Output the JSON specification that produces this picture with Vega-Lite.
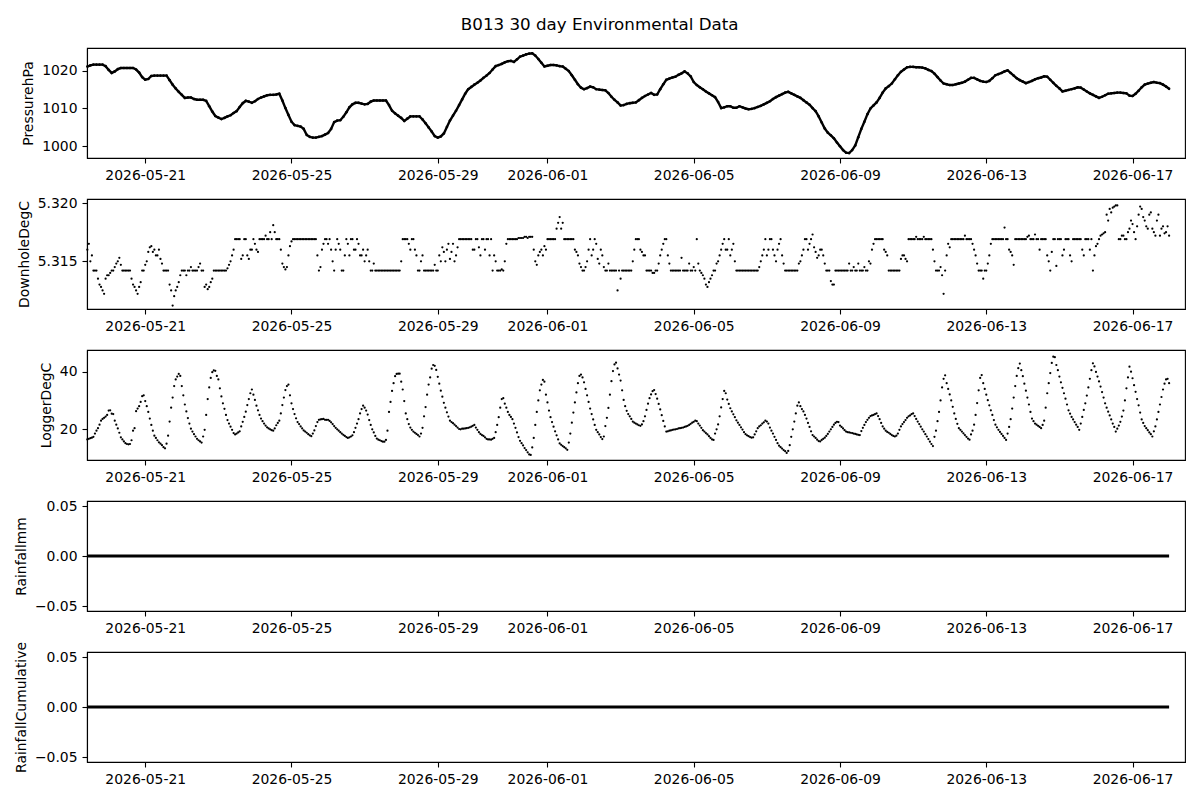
{
"$schema":"https://vega.github.io/schema/vega-lite/v6.json",
"background":"white",
"padding":{"left":13,"top":16,"right":5,"bottom":5},
"title":{"text":"B013 30 day Environmental Data","font":"DejaVu Sans","fontSize":16.7,"fontWeight":"normal","color":"black","anchor":"middle","frame":"bounds","offset":14},
"config":{
"font":"DejaVu Sans",
"view":{"stroke":"black","strokeWidth":1.1},
"axis":{"labelFont":"DejaVu Sans","labelFontSize":13.9,"labelColor":"black","titleFont":"DejaVu Sans","titleFontSize":13.9,"titleFontWeight":"normal","titleColor":"black","tickColor":"black","tickSize":5,"tickWidth":1.1,"domainColor":"black","domainWidth":1.1,"labelPadding":5,"titlePadding":6,"grid":false}
},
"bounds":"flush",
"spacing":41,
"data":{"values":[
{"t":"2026-05-19T10:00","p":1021.1,"d":5.3160,"l":16.5,"r":0,"c":0},
{"t":"2026-05-19T12:00","p":1021.4,"d":5.3150,"l":16.9,"r":0,"c":0},
{"t":"2026-05-19T14:00","p":1021.6,"d":5.3142,"l":17.4,"r":0,"c":0},
{"t":"2026-05-19T16:00","p":1021.6,"d":5.3142,"l":19.5,"r":0,"c":0},
{"t":"2026-05-19T18:00","p":1021.6,"d":5.3130,"l":21.6,"r":0,"c":0},
{"t":"2026-05-19T20:00","p":1021.6,"d":5.3125,"l":23.6,"r":0,"c":0},
{"t":"2026-05-19T22:00","p":1021.2,"d":5.3135,"l":24.4,"r":0,"c":0},
{"t":"2026-05-20T00:00","p":1020.2,"d":5.3138,"l":26.5,"r":0,"c":0},
{"t":"2026-05-20T02:00","p":1019.4,"d":5.3142,"l":25.4,"r":0,"c":0},
{"t":"2026-05-20T04:00","p":1019.8,"d":5.3145,"l":23.0,"r":0,"c":0},
{"t":"2026-05-20T06:00","p":1020.4,"d":5.3150,"l":20.3,"r":0,"c":0},
{"t":"2026-05-20T08:00","p":1020.7,"d":5.3147,"l":17.2,"r":0,"c":0},
{"t":"2026-05-20T10:00","p":1020.7,"d":5.3142,"l":15.8,"r":0,"c":0},
{"t":"2026-05-20T12:00","p":1020.7,"d":5.3142,"l":14.9,"r":0,"c":0},
{"t":"2026-05-20T14:00","p":1020.7,"d":5.3142,"l":14.9,"r":0,"c":0},
{"t":"2026-05-20T16:00","p":1020.7,"d":5.3130,"l":19.5,"r":0,"c":0},
{"t":"2026-05-20T18:00","p":1020.3,"d":5.3125,"l":26.3,"r":0,"c":0},
{"t":"2026-05-20T20:00","p":1019.5,"d":5.3128,"l":28.0,"r":0,"c":0},
{"t":"2026-05-20T22:00","p":1018.3,"d":5.3142,"l":31.5,"r":0,"c":0},
{"t":"2026-05-21T00:00","p":1017.6,"d":5.3147,"l":29.8,"r":0,"c":0},
{"t":"2026-05-21T02:00","p":1017.8,"d":5.3158,"l":26.0,"r":0,"c":0},
{"t":"2026-05-21T04:00","p":1018.6,"d":5.3163,"l":21.5,"r":0,"c":0},
{"t":"2026-05-21T06:00","p":1018.7,"d":5.3160,"l":17.8,"r":0,"c":0},
{"t":"2026-05-21T08:00","p":1018.7,"d":5.3155,"l":16.2,"r":0,"c":0},
{"t":"2026-05-21T10:00","p":1018.7,"d":5.3152,"l":15.0,"r":0,"c":0},
{"t":"2026-05-21T12:00","p":1018.7,"d":5.3142,"l":13.8,"r":0,"c":0},
{"t":"2026-05-21T14:00","p":1018.7,"d":5.3142,"l":15.0,"r":0,"c":0},
{"t":"2026-05-21T16:00","p":1017.5,"d":5.3130,"l":22.7,"r":0,"c":0},
{"t":"2026-05-21T18:00","p":1016.3,"d":5.3112,"l":31.0,"r":0,"c":0},
{"t":"2026-05-21T20:00","p":1015.3,"d":5.3125,"l":37.3,"r":0,"c":0},
{"t":"2026-05-21T22:00","p":1014.4,"d":5.3132,"l":39.2,"r":0,"c":0},
{"t":"2026-05-22T00:00","p":1013.6,"d":5.3142,"l":35.0,"r":0,"c":0},
{"t":"2026-05-22T02:00","p":1012.8,"d":5.3142,"l":28.6,"r":0,"c":0},
{"t":"2026-05-22T04:00","p":1012.9,"d":5.3142,"l":23.9,"r":0,"c":0},
{"t":"2026-05-22T06:00","p":1012.9,"d":5.3145,"l":20.2,"r":0,"c":0},
{"t":"2026-05-22T08:00","p":1012.5,"d":5.3142,"l":18.3,"r":0,"c":0},
{"t":"2026-05-22T10:00","p":1012.3,"d":5.3142,"l":16.7,"r":0,"c":0},
{"t":"2026-05-22T12:00","p":1012.3,"d":5.3148,"l":15.8,"r":0,"c":0},
{"t":"2026-05-22T14:00","p":1012.3,"d":5.3142,"l":17.5,"r":0,"c":0},
{"t":"2026-05-22T16:00","p":1012.0,"d":5.3130,"l":25.0,"r":0,"c":0},
{"t":"2026-05-22T18:00","p":1010.6,"d":5.3128,"l":34.5,"r":0,"c":0},
{"t":"2026-05-22T20:00","p":1009.2,"d":5.3135,"l":39.8,"r":0,"c":0},
{"t":"2026-05-22T22:00","p":1008.0,"d":5.3142,"l":40.3,"r":0,"c":0},
{"t":"2026-05-23T00:00","p":1007.6,"d":5.3142,"l":37.3,"r":0,"c":0},
{"t":"2026-05-23T02:00","p":1007.2,"d":5.3142,"l":31.4,"r":0,"c":0},
{"t":"2026-05-23T04:00","p":1007.5,"d":5.3142,"l":27.1,"r":0,"c":0},
{"t":"2026-05-23T06:00","p":1007.9,"d":5.3144,"l":23.2,"r":0,"c":0},
{"t":"2026-05-23T08:00","p":1008.2,"d":5.3150,"l":20.9,"r":0,"c":0},
{"t":"2026-05-23T10:00","p":1008.8,"d":5.3160,"l":18.7,"r":0,"c":0},
{"t":"2026-05-23T12:00","p":1009.3,"d":5.3169,"l":18.5,"r":0,"c":0},
{"t":"2026-05-23T14:00","p":1010.4,"d":5.3169,"l":19.3,"r":0,"c":0},
{"t":"2026-05-23T16:00","p":1011.4,"d":5.3155,"l":22.6,"r":0,"c":0},
{"t":"2026-05-23T18:00","p":1012.0,"d":5.3169,"l":26.1,"r":0,"c":0},
{"t":"2026-05-23T20:00","p":1011.8,"d":5.3152,"l":30.5,"r":0,"c":0},
{"t":"2026-05-23T22:00","p":1011.5,"d":5.3160,"l":33.8,"r":0,"c":0},
{"t":"2026-05-24T00:00","p":1011.9,"d":5.3165,"l":30.2,"r":0,"c":0},
{"t":"2026-05-24T02:00","p":1012.5,"d":5.3158,"l":26.6,"r":0,"c":0},
{"t":"2026-05-24T04:00","p":1012.9,"d":5.3169,"l":23.7,"r":0,"c":0},
{"t":"2026-05-24T06:00","p":1013.2,"d":5.3169,"l":22.0,"r":0,"c":0},
{"t":"2026-05-24T08:00","p":1013.5,"d":5.3169,"l":20.7,"r":0,"c":0},
{"t":"2026-05-24T10:00","p":1013.6,"d":5.3175,"l":20.0,"r":0,"c":0},
{"t":"2026-05-24T12:00","p":1013.6,"d":5.3181,"l":19.5,"r":0,"c":0},
{"t":"2026-05-24T14:00","p":1013.7,"d":5.3169,"l":21.4,"r":0,"c":0},
{"t":"2026-05-24T16:00","p":1013.9,"d":5.3169,"l":23.0,"r":0,"c":0},
{"t":"2026-05-24T18:00","p":1012.1,"d":5.3148,"l":28.4,"r":0,"c":0},
{"t":"2026-05-24T20:00","p":1010.1,"d":5.3143,"l":33.6,"r":0,"c":0},
{"t":"2026-05-24T22:00","p":1008.3,"d":5.3155,"l":35.5,"r":0,"c":0},
{"t":"2026-05-25T00:00","p":1006.5,"d":5.3167,"l":29.0,"r":0,"c":0},
{"t":"2026-05-25T02:00","p":1005.6,"d":5.3169,"l":25.3,"r":0,"c":0},
{"t":"2026-05-25T04:00","p":1005.4,"d":5.3169,"l":22.5,"r":0,"c":0},
{"t":"2026-05-25T06:00","p":1005.2,"d":5.3169,"l":21.0,"r":0,"c":0},
{"t":"2026-05-25T08:00","p":1004.6,"d":5.3169,"l":19.6,"r":0,"c":0},
{"t":"2026-05-25T10:00","p":1003.0,"d":5.3169,"l":18.8,"r":0,"c":0},
{"t":"2026-05-25T12:00","p":1002.5,"d":5.3169,"l":17.9,"r":0,"c":0},
{"t":"2026-05-25T14:00","p":1002.3,"d":5.3169,"l":18.5,"r":0,"c":0},
{"t":"2026-05-25T16:00","p":1002.3,"d":5.3169,"l":21.1,"r":0,"c":0},
{"t":"2026-05-25T18:00","p":1002.5,"d":5.3142,"l":23.3,"r":0,"c":0},
{"t":"2026-05-25T20:00","p":1002.7,"d":5.3160,"l":23.5,"r":0,"c":0},
{"t":"2026-05-25T22:00","p":1003.1,"d":5.3169,"l":23.3,"r":0,"c":0},
{"t":"2026-05-26T00:00","p":1003.5,"d":5.3165,"l":23.3,"r":0,"c":0},
{"t":"2026-05-26T02:00","p":1004.6,"d":5.3160,"l":22.4,"r":0,"c":0},
{"t":"2026-05-26T04:00","p":1006.4,"d":5.3142,"l":21.1,"r":0,"c":0},
{"t":"2026-05-26T06:00","p":1006.8,"d":5.3169,"l":20.0,"r":0,"c":0},
{"t":"2026-05-26T08:00","p":1006.9,"d":5.3160,"l":19.0,"r":0,"c":0},
{"t":"2026-05-26T10:00","p":1007.8,"d":5.3142,"l":18.1,"r":0,"c":0},
{"t":"2026-05-26T12:00","p":1009.0,"d":5.3169,"l":17.3,"r":0,"c":0},
{"t":"2026-05-26T14:00","p":1010.3,"d":5.3155,"l":17.2,"r":0,"c":0},
{"t":"2026-05-26T16:00","p":1011.1,"d":5.3169,"l":17.9,"r":0,"c":0},
{"t":"2026-05-26T18:00","p":1011.5,"d":5.3160,"l":20.5,"r":0,"c":0},
{"t":"2026-05-26T20:00","p":1011.5,"d":5.3165,"l":23.5,"r":0,"c":0},
{"t":"2026-05-26T22:00","p":1011.3,"d":5.3155,"l":27.0,"r":0,"c":0},
{"t":"2026-05-27T00:00","p":1011.1,"d":5.3150,"l":27.5,"r":0,"c":0},
{"t":"2026-05-27T02:00","p":1011.2,"d":5.3160,"l":25.1,"r":0,"c":0},
{"t":"2026-05-27T04:00","p":1011.8,"d":5.3142,"l":21.5,"r":0,"c":0},
{"t":"2026-05-27T06:00","p":1012.1,"d":5.3148,"l":18.9,"r":0,"c":0},
{"t":"2026-05-27T08:00","p":1012.1,"d":5.3142,"l":16.8,"r":0,"c":0},
{"t":"2026-05-27T10:00","p":1012.1,"d":5.3142,"l":16.2,"r":0,"c":0},
{"t":"2026-05-27T12:00","p":1012.1,"d":5.3142,"l":15.7,"r":0,"c":0},
{"t":"2026-05-27T14:00","p":1012.1,"d":5.3142,"l":16.3,"r":0,"c":0},
{"t":"2026-05-27T16:00","p":1010.9,"d":5.3142,"l":26.0,"r":0,"c":0},
{"t":"2026-05-27T18:00","p":1009.4,"d":5.3142,"l":33.3,"r":0,"c":0},
{"t":"2026-05-27T20:00","p":1008.7,"d":5.3142,"l":38.4,"r":0,"c":0},
{"t":"2026-05-27T22:00","p":1008.1,"d":5.3142,"l":39.3,"r":0,"c":0},
{"t":"2026-05-28T00:00","p":1007.5,"d":5.3150,"l":36.5,"r":0,"c":0},
{"t":"2026-05-28T02:00","p":1006.7,"d":5.3169,"l":29.8,"r":0,"c":0},
{"t":"2026-05-28T04:00","p":1007.3,"d":5.3169,"l":23.5,"r":0,"c":0},
{"t":"2026-05-28T06:00","p":1007.9,"d":5.3160,"l":20.6,"r":0,"c":0},
{"t":"2026-05-28T08:00","p":1007.9,"d":5.3169,"l":19.2,"r":0,"c":0},
{"t":"2026-05-28T10:00","p":1007.9,"d":5.3155,"l":18.4,"r":0,"c":0},
{"t":"2026-05-28T12:00","p":1007.9,"d":5.3142,"l":17.5,"r":0,"c":0},
{"t":"2026-05-28T14:00","p":1007.1,"d":5.3155,"l":20.5,"r":0,"c":0},
{"t":"2026-05-28T16:00","p":1006.1,"d":5.3142,"l":27.7,"r":0,"c":0},
{"t":"2026-05-28T18:00","p":1005.0,"d":5.3142,"l":35.5,"r":0,"c":0},
{"t":"2026-05-28T20:00","p":1003.9,"d":5.3142,"l":41.0,"r":0,"c":0},
{"t":"2026-05-28T22:00","p":1002.7,"d":5.3147,"l":42.0,"r":0,"c":0},
{"t":"2026-05-29T00:00","p":1002.3,"d":5.3142,"l":38.2,"r":0,"c":0},
{"t":"2026-05-29T02:00","p":1002.6,"d":5.3150,"l":33.4,"r":0,"c":0},
{"t":"2026-05-29T04:00","p":1003.4,"d":5.3158,"l":29.2,"r":0,"c":0},
{"t":"2026-05-29T06:00","p":1005.1,"d":5.3160,"l":25.9,"r":0,"c":0},
{"t":"2026-05-29T08:00","p":1006.8,"d":5.3152,"l":23.0,"r":0,"c":0},
{"t":"2026-05-29T10:00","p":1008.1,"d":5.3165,"l":22.1,"r":0,"c":0},
{"t":"2026-05-29T12:00","p":1009.4,"d":5.3155,"l":21.1,"r":0,"c":0},
{"t":"2026-05-29T14:00","p":1010.9,"d":5.3169,"l":20.1,"r":0,"c":0},
{"t":"2026-05-29T16:00","p":1012.4,"d":5.3169,"l":20.2,"r":0,"c":0},
{"t":"2026-05-29T18:00","p":1013.9,"d":5.3169,"l":20.3,"r":0,"c":0},
{"t":"2026-05-29T20:00","p":1015.1,"d":5.3169,"l":20.5,"r":0,"c":0},
{"t":"2026-05-29T22:00","p":1015.7,"d":5.3169,"l":20.9,"r":0,"c":0},
{"t":"2026-05-30T00:00","p":1016.3,"d":5.3160,"l":21.5,"r":0,"c":0},
{"t":"2026-05-30T02:00","p":1016.8,"d":5.3169,"l":19.8,"r":0,"c":0},
{"t":"2026-05-30T04:00","p":1017.4,"d":5.3155,"l":18.4,"r":0,"c":0},
{"t":"2026-05-30T06:00","p":1018.1,"d":5.3169,"l":17.7,"r":0,"c":0},
{"t":"2026-05-30T08:00","p":1018.7,"d":5.3169,"l":16.7,"r":0,"c":0},
{"t":"2026-05-30T10:00","p":1019.4,"d":5.3155,"l":16.5,"r":0,"c":0},
{"t":"2026-05-30T12:00","p":1020.3,"d":5.3142,"l":16.7,"r":0,"c":0},
{"t":"2026-05-30T14:00","p":1021.2,"d":5.3150,"l":19.0,"r":0,"c":0},
{"t":"2026-05-30T16:00","p":1021.5,"d":5.3142,"l":24.2,"r":0,"c":0},
{"t":"2026-05-30T18:00","p":1021.8,"d":5.3143,"l":30.5,"r":0,"c":0},
{"t":"2026-05-30T20:00","p":1022.2,"d":5.3150,"l":28.9,"r":0,"c":0},
{"t":"2026-05-30T22:00","p":1022.5,"d":5.3169,"l":26.0,"r":0,"c":0},
{"t":"2026-05-31T00:00","p":1022.6,"d":5.3169,"l":24.3,"r":0,"c":0},
{"t":"2026-05-31T02:00","p":1022.3,"d":5.3169,"l":22.0,"r":0,"c":0},
{"t":"2026-05-31T04:00","p":1023.0,"d":5.3169,"l":18.9,"r":0,"c":0},
{"t":"2026-05-31T06:00","p":1023.7,"d":5.3170,"l":16.0,"r":0,"c":0},
{"t":"2026-05-31T08:00","p":1024.0,"d":5.3170,"l":14.4,"r":0,"c":0},
{"t":"2026-05-31T10:00","p":1024.3,"d":5.3171,"l":12.8,"r":0,"c":0},
{"t":"2026-05-31T12:00","p":1024.5,"d":5.3171,"l":11.3,"r":0,"c":0},
{"t":"2026-05-31T14:00","p":1024.6,"d":5.3171,"l":13.7,"r":0,"c":0},
{"t":"2026-05-31T16:00","p":1024.0,"d":5.3150,"l":21.5,"r":0,"c":0},
{"t":"2026-05-31T18:00","p":1023.1,"d":5.3155,"l":30.0,"r":0,"c":0},
{"t":"2026-05-31T20:00","p":1022.1,"d":5.3160,"l":35.5,"r":0,"c":0},
{"t":"2026-05-31T22:00","p":1021.1,"d":5.3163,"l":36.5,"r":0,"c":0},
{"t":"2026-06-01T00:00","p":1021.3,"d":5.3169,"l":29.3,"r":0,"c":0},
{"t":"2026-06-01T02:00","p":1021.5,"d":5.3169,"l":24.2,"r":0,"c":0},
{"t":"2026-06-01T04:00","p":1021.5,"d":5.3169,"l":20.9,"r":0,"c":0},
{"t":"2026-06-01T06:00","p":1021.4,"d":5.3178,"l":17.9,"r":0,"c":0},
{"t":"2026-06-01T08:00","p":1021.2,"d":5.3188,"l":15.1,"r":0,"c":0},
{"t":"2026-06-01T10:00","p":1021.1,"d":5.3183,"l":14.2,"r":0,"c":0},
{"t":"2026-06-01T12:00","p":1020.5,"d":5.3169,"l":13.4,"r":0,"c":0},
{"t":"2026-06-01T14:00","p":1019.9,"d":5.3169,"l":15.4,"r":0,"c":0},
{"t":"2026-06-01T16:00","p":1018.8,"d":5.3169,"l":22.3,"r":0,"c":0},
{"t":"2026-06-01T18:00","p":1017.6,"d":5.3160,"l":29.3,"r":0,"c":0},
{"t":"2026-06-01T20:00","p":1016.4,"d":5.3155,"l":36.0,"r":0,"c":0},
{"t":"2026-06-01T22:00","p":1015.5,"d":5.3145,"l":39.0,"r":0,"c":0},
{"t":"2026-06-02T00:00","p":1015.1,"d":5.3142,"l":36.3,"r":0,"c":0},
{"t":"2026-06-02T02:00","p":1015.4,"d":5.3150,"l":31.8,"r":0,"c":0},
{"t":"2026-06-02T04:00","p":1015.8,"d":5.3169,"l":27.2,"r":0,"c":0},
{"t":"2026-06-02T06:00","p":1015.6,"d":5.3160,"l":23.4,"r":0,"c":0},
{"t":"2026-06-02T08:00","p":1015.1,"d":5.3165,"l":19.8,"r":0,"c":0},
{"t":"2026-06-02T10:00","p":1015.0,"d":5.3148,"l":18.2,"r":0,"c":0},
{"t":"2026-06-02T12:00","p":1014.9,"d":5.3155,"l":16.6,"r":0,"c":0},
{"t":"2026-06-02T14:00","p":1014.8,"d":5.3142,"l":21.1,"r":0,"c":0},
{"t":"2026-06-02T16:00","p":1014.1,"d":5.3148,"l":27.4,"r":0,"c":0},
{"t":"2026-06-02T18:00","p":1013.1,"d":5.3142,"l":36.7,"r":0,"c":0},
{"t":"2026-06-02T20:00","p":1012.3,"d":5.3142,"l":42.5,"r":0,"c":0},
{"t":"2026-06-02T22:00","p":1011.6,"d":5.3125,"l":41.1,"r":0,"c":0},
{"t":"2026-06-03T00:00","p":1010.8,"d":5.3135,"l":36.9,"r":0,"c":0},
{"t":"2026-06-03T02:00","p":1010.9,"d":5.3142,"l":30.2,"r":0,"c":0},
{"t":"2026-06-03T04:00","p":1011.2,"d":5.3142,"l":26.4,"r":0,"c":0},
{"t":"2026-06-03T06:00","p":1011.4,"d":5.3142,"l":24.5,"r":0,"c":0},
{"t":"2026-06-03T08:00","p":1011.5,"d":5.3150,"l":22.7,"r":0,"c":0},
{"t":"2026-06-03T10:00","p":1011.6,"d":5.3169,"l":22.0,"r":0,"c":0},
{"t":"2026-06-03T12:00","p":1012.2,"d":5.3169,"l":21.4,"r":0,"c":0},
{"t":"2026-06-03T14:00","p":1012.8,"d":5.3158,"l":21.7,"r":0,"c":0},
{"t":"2026-06-03T16:00","p":1013.3,"d":5.3155,"l":24.5,"r":0,"c":0},
{"t":"2026-06-03T18:00","p":1013.7,"d":5.3142,"l":28.9,"r":0,"c":0},
{"t":"2026-06-03T20:00","p":1014.1,"d":5.3142,"l":32.1,"r":0,"c":0},
{"t":"2026-06-03T22:00","p":1013.6,"d":5.3140,"l":33.6,"r":0,"c":0},
{"t":"2026-06-04T00:00","p":1013.7,"d":5.3142,"l":30.6,"r":0,"c":0},
{"t":"2026-06-04T02:00","p":1015.1,"d":5.3155,"l":26.9,"r":0,"c":0},
{"t":"2026-06-04T04:00","p":1016.4,"d":5.3165,"l":22.9,"r":0,"c":0},
{"t":"2026-06-04T06:00","p":1017.6,"d":5.3169,"l":19.2,"r":0,"c":0},
{"t":"2026-06-04T08:00","p":1017.9,"d":5.3148,"l":19.5,"r":0,"c":0},
{"t":"2026-06-04T10:00","p":1018.2,"d":5.3142,"l":19.8,"r":0,"c":0},
{"t":"2026-06-04T12:00","p":1018.4,"d":5.3142,"l":20.0,"r":0,"c":0},
{"t":"2026-06-04T14:00","p":1018.9,"d":5.3142,"l":20.3,"r":0,"c":0},
{"t":"2026-06-04T16:00","p":1019.3,"d":5.3153,"l":20.5,"r":0,"c":0},
{"t":"2026-06-04T18:00","p":1019.8,"d":5.3142,"l":20.8,"r":0,"c":0},
{"t":"2026-06-04T20:00","p":1019.3,"d":5.3142,"l":21.2,"r":0,"c":0},
{"t":"2026-06-04T22:00","p":1018.5,"d":5.3142,"l":21.9,"r":0,"c":0},
{"t":"2026-06-05T00:00","p":1017.0,"d":5.3145,"l":22.6,"r":0,"c":0},
{"t":"2026-06-05T02:00","p":1016.2,"d":5.3169,"l":22.8,"r":0,"c":0},
{"t":"2026-06-05T04:00","p":1015.6,"d":5.3142,"l":21.3,"r":0,"c":0},
{"t":"2026-06-05T06:00","p":1015.1,"d":5.3138,"l":19.7,"r":0,"c":0},
{"t":"2026-06-05T08:00","p":1014.5,"d":5.3130,"l":18.7,"r":0,"c":0},
{"t":"2026-06-05T10:00","p":1014.0,"d":5.3132,"l":17.6,"r":0,"c":0},
{"t":"2026-06-05T12:00","p":1013.5,"d":5.3138,"l":16.5,"r":0,"c":0},
{"t":"2026-06-05T14:00","p":1013.0,"d":5.3142,"l":18.5,"r":0,"c":0},
{"t":"2026-06-05T16:00","p":1011.7,"d":5.3150,"l":21.7,"r":0,"c":0},
{"t":"2026-06-05T18:00","p":1010.1,"d":5.3160,"l":27.6,"r":0,"c":0},
{"t":"2026-06-05T20:00","p":1010.3,"d":5.3169,"l":33.3,"r":0,"c":0},
{"t":"2026-06-05T22:00","p":1010.6,"d":5.3160,"l":30.3,"r":0,"c":0},
{"t":"2026-06-06T00:00","p":1010.6,"d":5.3155,"l":27.3,"r":0,"c":0},
{"t":"2026-06-06T02:00","p":1010.2,"d":5.3165,"l":25.2,"r":0,"c":0},
{"t":"2026-06-06T04:00","p":1010.2,"d":5.3142,"l":23.1,"r":0,"c":0},
{"t":"2026-06-06T06:00","p":1010.6,"d":5.3142,"l":21.5,"r":0,"c":0},
{"t":"2026-06-06T08:00","p":1010.3,"d":5.3142,"l":19.9,"r":0,"c":0},
{"t":"2026-06-06T10:00","p":1010.0,"d":5.3142,"l":18.3,"r":0,"c":0},
{"t":"2026-06-06T12:00","p":1009.8,"d":5.3142,"l":17.6,"r":0,"c":0},
{"t":"2026-06-06T14:00","p":1009.9,"d":5.3142,"l":17.1,"r":0,"c":0},
{"t":"2026-06-06T16:00","p":1010.1,"d":5.3142,"l":18.2,"r":0,"c":0},
{"t":"2026-06-06T18:00","p":1010.4,"d":5.3142,"l":20.4,"r":0,"c":0},
{"t":"2026-06-06T20:00","p":1010.7,"d":5.3150,"l":21.4,"r":0,"c":0},
{"t":"2026-06-06T22:00","p":1011.1,"d":5.3160,"l":22.4,"r":0,"c":0},
{"t":"2026-06-07T00:00","p":1011.5,"d":5.3155,"l":22.7,"r":0,"c":0},
{"t":"2026-06-07T02:00","p":1011.9,"d":5.3169,"l":20.6,"r":0,"c":0},
{"t":"2026-06-07T04:00","p":1012.5,"d":5.3160,"l":18.5,"r":0,"c":0},
{"t":"2026-06-07T06:00","p":1013.0,"d":5.3150,"l":16.3,"r":0,"c":0},
{"t":"2026-06-07T08:00","p":1013.4,"d":5.3165,"l":14.3,"r":0,"c":0},
{"t":"2026-06-07T10:00","p":1013.8,"d":5.3155,"l":13.3,"r":0,"c":0},
{"t":"2026-06-07T12:00","p":1014.2,"d":5.3142,"l":12.4,"r":0,"c":0},
{"t":"2026-06-07T14:00","p":1014.4,"d":5.3142,"l":12.5,"r":0,"c":0},
{"t":"2026-06-07T16:00","p":1014.0,"d":5.3142,"l":17.4,"r":0,"c":0},
{"t":"2026-06-07T18:00","p":1013.6,"d":5.3142,"l":22.7,"r":0,"c":0},
{"t":"2026-06-07T20:00","p":1013.2,"d":5.3142,"l":28.2,"r":0,"c":0},
{"t":"2026-06-07T22:00","p":1012.8,"d":5.3150,"l":28.0,"r":0,"c":0},
{"t":"2026-06-08T00:00","p":1012.2,"d":5.3160,"l":26.2,"r":0,"c":0},
{"t":"2026-06-08T02:00","p":1011.6,"d":5.3169,"l":23.7,"r":0,"c":0},
{"t":"2026-06-08T04:00","p":1011.0,"d":5.3165,"l":20.8,"r":0,"c":0},
{"t":"2026-06-08T06:00","p":1010.1,"d":5.3173,"l":18.0,"r":0,"c":0},
{"t":"2026-06-08T08:00","p":1009.3,"d":5.3158,"l":17.0,"r":0,"c":0},
{"t":"2026-06-08T10:00","p":1007.9,"d":5.3155,"l":15.9,"r":0,"c":0},
{"t":"2026-06-08T12:00","p":1006.3,"d":5.3160,"l":16.3,"r":0,"c":0},
{"t":"2026-06-08T14:00","p":1004.7,"d":5.3148,"l":17.1,"r":0,"c":0},
{"t":"2026-06-08T16:00","p":1003.6,"d":5.3142,"l":18.4,"r":0,"c":0},
{"t":"2026-06-08T18:00","p":1002.9,"d":5.3133,"l":20.0,"r":0,"c":0},
{"t":"2026-06-08T20:00","p":1002.1,"d":5.3130,"l":21.6,"r":0,"c":0},
{"t":"2026-06-08T22:00","p":1001.0,"d":5.3142,"l":22.6,"r":0,"c":0},
{"t":"2026-06-09T00:00","p":1000.0,"d":5.3142,"l":21.3,"r":0,"c":0},
{"t":"2026-06-09T02:00","p":999.0,"d":5.3142,"l":20.3,"r":0,"c":0},
{"t":"2026-06-09T04:00","p":998.3,"d":5.3142,"l":19.2,"r":0,"c":0},
{"t":"2026-06-09T06:00","p":998.2,"d":5.3148,"l":18.9,"r":0,"c":0},
{"t":"2026-06-09T08:00","p":999.0,"d":5.3142,"l":18.7,"r":0,"c":0},
{"t":"2026-06-09T10:00","p":1000.2,"d":5.3142,"l":18.4,"r":0,"c":0},
{"t":"2026-06-09T12:00","p":1002.4,"d":5.3148,"l":18.1,"r":0,"c":0},
{"t":"2026-06-09T14:00","p":1004.6,"d":5.3142,"l":19.4,"r":0,"c":0},
{"t":"2026-06-09T16:00","p":1006.5,"d":5.3145,"l":21.5,"r":0,"c":0},
{"t":"2026-06-09T18:00","p":1008.5,"d":5.3142,"l":23.3,"r":0,"c":0},
{"t":"2026-06-09T20:00","p":1010.0,"d":5.3148,"l":24.6,"r":0,"c":0},
{"t":"2026-06-09T22:00","p":1010.8,"d":5.3165,"l":25.0,"r":0,"c":0},
{"t":"2026-06-10T00:00","p":1011.6,"d":5.3169,"l":25.5,"r":0,"c":0},
{"t":"2026-06-10T02:00","p":1012.8,"d":5.3169,"l":23.5,"r":0,"c":0},
{"t":"2026-06-10T04:00","p":1014.2,"d":5.3169,"l":21.0,"r":0,"c":0},
{"t":"2026-06-10T06:00","p":1015.3,"d":5.3158,"l":19.5,"r":0,"c":0},
{"t":"2026-06-10T08:00","p":1015.9,"d":5.3142,"l":18.8,"r":0,"c":0},
{"t":"2026-06-10T10:00","p":1016.6,"d":5.3142,"l":18.0,"r":0,"c":0},
{"t":"2026-06-10T12:00","p":1017.7,"d":5.3142,"l":17.5,"r":0,"c":0},
{"t":"2026-06-10T14:00","p":1018.8,"d":5.3142,"l":18.5,"r":0,"c":0},
{"t":"2026-06-10T16:00","p":1019.7,"d":5.3152,"l":21.0,"r":0,"c":0},
{"t":"2026-06-10T18:00","p":1020.3,"d":5.3155,"l":22.5,"r":0,"c":0},
{"t":"2026-06-10T20:00","p":1020.9,"d":5.3150,"l":24.0,"r":0,"c":0},
{"t":"2026-06-10T22:00","p":1021.0,"d":5.3169,"l":24.8,"r":0,"c":0},
{"t":"2026-06-11T00:00","p":1021.0,"d":5.3169,"l":25.5,"r":0,"c":0},
{"t":"2026-06-11T02:00","p":1020.9,"d":5.3171,"l":23.6,"r":0,"c":0},
{"t":"2026-06-11T04:00","p":1020.9,"d":5.3169,"l":21.8,"r":0,"c":0},
{"t":"2026-06-11T06:00","p":1020.8,"d":5.3169,"l":20.0,"r":0,"c":0},
{"t":"2026-06-11T08:00","p":1020.6,"d":5.3169,"l":18.3,"r":0,"c":0},
{"t":"2026-06-11T10:00","p":1020.2,"d":5.3169,"l":16.6,"r":0,"c":0},
{"t":"2026-06-11T12:00","p":1019.9,"d":5.3169,"l":14.9,"r":0,"c":0},
{"t":"2026-06-11T14:00","p":1019.2,"d":5.3150,"l":17.4,"r":0,"c":0},
{"t":"2026-06-11T16:00","p":1018.3,"d":5.3142,"l":22.8,"r":0,"c":0},
{"t":"2026-06-11T18:00","p":1017.4,"d":5.3145,"l":30.0,"r":0,"c":0},
{"t":"2026-06-11T20:00","p":1016.6,"d":5.3122,"l":37.5,"r":0,"c":0},
{"t":"2026-06-11T22:00","p":1016.4,"d":5.3155,"l":36.0,"r":0,"c":0},
{"t":"2026-06-12T00:00","p":1016.2,"d":5.3162,"l":32.1,"r":0,"c":0},
{"t":"2026-06-12T02:00","p":1016.2,"d":5.3169,"l":27.8,"r":0,"c":0},
{"t":"2026-06-12T04:00","p":1016.4,"d":5.3169,"l":23.6,"r":0,"c":0},
{"t":"2026-06-12T06:00","p":1016.6,"d":5.3169,"l":20.4,"r":0,"c":0},
{"t":"2026-06-12T08:00","p":1016.8,"d":5.3169,"l":19.2,"r":0,"c":0},
{"t":"2026-06-12T10:00","p":1017.1,"d":5.3172,"l":18.0,"r":0,"c":0},
{"t":"2026-06-12T12:00","p":1017.6,"d":5.3169,"l":16.8,"r":0,"c":0},
{"t":"2026-06-12T14:00","p":1018.1,"d":5.3169,"l":18.2,"r":0,"c":0},
{"t":"2026-06-12T16:00","p":1018.1,"d":5.3160,"l":21.6,"r":0,"c":0},
{"t":"2026-06-12T18:00","p":1017.7,"d":5.3148,"l":29.1,"r":0,"c":0},
{"t":"2026-06-12T20:00","p":1017.3,"d":5.3142,"l":37.8,"r":0,"c":0},
{"t":"2026-06-12T22:00","p":1017.1,"d":5.3135,"l":36.0,"r":0,"c":0},
{"t":"2026-06-13T00:00","p":1017.0,"d":5.3142,"l":32.0,"r":0,"c":0},
{"t":"2026-06-13T02:00","p":1017.3,"d":5.3155,"l":28.3,"r":0,"c":0},
{"t":"2026-06-13T04:00","p":1018.0,"d":5.3169,"l":25.0,"r":0,"c":0},
{"t":"2026-06-13T06:00","p":1018.8,"d":5.3169,"l":21.6,"r":0,"c":0},
{"t":"2026-06-13T08:00","p":1019.1,"d":5.3169,"l":19.8,"r":0,"c":0},
{"t":"2026-06-13T10:00","p":1019.4,"d":5.3169,"l":18.4,"r":0,"c":0},
{"t":"2026-06-13T12:00","p":1019.8,"d":5.3179,"l":17.0,"r":0,"c":0},
{"t":"2026-06-13T14:00","p":1020.1,"d":5.3169,"l":18.5,"r":0,"c":0},
{"t":"2026-06-13T16:00","p":1019.4,"d":5.3158,"l":23.5,"r":0,"c":0},
{"t":"2026-06-13T18:00","p":1018.7,"d":5.3147,"l":31.0,"r":0,"c":0},
{"t":"2026-06-13T20:00","p":1018.0,"d":5.3169,"l":38.5,"r":0,"c":0},
{"t":"2026-06-13T22:00","p":1017.5,"d":5.3169,"l":42.8,"r":0,"c":0},
{"t":"2026-06-14T00:00","p":1017.1,"d":5.3169,"l":38.4,"r":0,"c":0},
{"t":"2026-06-14T02:00","p":1016.7,"d":5.3169,"l":33.4,"r":0,"c":0},
{"t":"2026-06-14T04:00","p":1017.0,"d":5.3172,"l":28.6,"r":0,"c":0},
{"t":"2026-06-14T06:00","p":1017.3,"d":5.3169,"l":23.7,"r":0,"c":0},
{"t":"2026-06-14T08:00","p":1017.7,"d":5.3173,"l":22.0,"r":0,"c":0},
{"t":"2026-06-14T10:00","p":1018.0,"d":5.3169,"l":21.2,"r":0,"c":0},
{"t":"2026-06-14T12:00","p":1018.2,"d":5.3169,"l":20.4,"r":0,"c":0},
{"t":"2026-06-14T14:00","p":1018.5,"d":5.3169,"l":23.0,"r":0,"c":0},
{"t":"2026-06-14T16:00","p":1018.4,"d":5.3155,"l":32.5,"r":0,"c":0},
{"t":"2026-06-14T18:00","p":1017.6,"d":5.3142,"l":39.5,"r":0,"c":0},
{"t":"2026-06-14T20:00","p":1016.8,"d":5.3169,"l":45.2,"r":0,"c":0},
{"t":"2026-06-14T22:00","p":1016.0,"d":5.3146,"l":42.3,"r":0,"c":0},
{"t":"2026-06-15T00:00","p":1015.3,"d":5.3169,"l":38.3,"r":0,"c":0},
{"t":"2026-06-15T02:00","p":1014.5,"d":5.3155,"l":34.4,"r":0,"c":0},
{"t":"2026-06-15T04:00","p":1014.7,"d":5.3169,"l":30.6,"r":0,"c":0},
{"t":"2026-06-15T06:00","p":1014.9,"d":5.3169,"l":26.6,"r":0,"c":0},
{"t":"2026-06-15T08:00","p":1015.1,"d":5.3150,"l":24.3,"r":0,"c":0},
{"t":"2026-06-15T10:00","p":1015.3,"d":5.3169,"l":22.5,"r":0,"c":0},
{"t":"2026-06-15T12:00","p":1015.6,"d":5.3169,"l":20.8,"r":0,"c":0},
{"t":"2026-06-15T14:00","p":1015.5,"d":5.3169,"l":22.0,"r":0,"c":0},
{"t":"2026-06-15T16:00","p":1015.0,"d":5.3155,"l":26.7,"r":0,"c":0},
{"t":"2026-06-15T18:00","p":1014.5,"d":5.3169,"l":31.7,"r":0,"c":0},
{"t":"2026-06-15T20:00","p":1014.0,"d":5.3160,"l":37.5,"r":0,"c":0},
{"t":"2026-06-15T22:00","p":1013.6,"d":5.3142,"l":42.9,"r":0,"c":0},
{"t":"2026-06-16T00:00","p":1013.2,"d":5.3163,"l":39.9,"r":0,"c":0},
{"t":"2026-06-16T02:00","p":1012.8,"d":5.3169,"l":36.6,"r":0,"c":0},
{"t":"2026-06-16T04:00","p":1013.1,"d":5.3173,"l":32.9,"r":0,"c":0},
{"t":"2026-06-16T06:00","p":1013.5,"d":5.3175,"l":29.0,"r":0,"c":0},
{"t":"2026-06-16T08:00","p":1013.9,"d":5.3185,"l":26.1,"r":0,"c":0},
{"t":"2026-06-16T10:00","p":1014.0,"d":5.3192,"l":23.4,"r":0,"c":0},
{"t":"2026-06-16T12:00","p":1014.1,"d":5.3197,"l":20.8,"r":0,"c":0},
{"t":"2026-06-16T14:00","p":1014.2,"d":5.3198,"l":20.2,"r":0,"c":0},
{"t":"2026-06-16T16:00","p":1014.2,"d":5.3169,"l":22.6,"r":0,"c":0},
{"t":"2026-06-16T18:00","p":1014.1,"d":5.3172,"l":26.5,"r":0,"c":0},
{"t":"2026-06-16T20:00","p":1014.0,"d":5.3169,"l":34.2,"r":0,"c":0},
{"t":"2026-06-16T22:00","p":1013.4,"d":5.3178,"l":41.7,"r":0,"c":0},
{"t":"2026-06-17T00:00","p":1013.3,"d":5.3182,"l":37.7,"r":0,"c":0},
{"t":"2026-06-17T02:00","p":1013.9,"d":5.3169,"l":33.0,"r":0,"c":0},
{"t":"2026-06-17T04:00","p":1014.7,"d":5.3190,"l":28.3,"r":0,"c":0},
{"t":"2026-06-17T06:00","p":1015.6,"d":5.3195,"l":23.4,"r":0,"c":0},
{"t":"2026-06-17T08:00","p":1016.3,"d":5.3185,"l":21.1,"r":0,"c":0},
{"t":"2026-06-17T10:00","p":1016.6,"d":5.3178,"l":19.7,"r":0,"c":0},
{"t":"2026-06-17T12:00","p":1016.8,"d":5.3192,"l":18.3,"r":0,"c":0},
{"t":"2026-06-17T14:00","p":1017.0,"d":5.3175,"l":19.3,"r":0,"c":0},
{"t":"2026-06-17T16:00","p":1016.8,"d":5.3185,"l":23.4,"r":0,"c":0},
{"t":"2026-06-17T18:00","p":1016.7,"d":5.3172,"l":28.6,"r":0,"c":0},
{"t":"2026-06-17T20:00","p":1016.3,"d":5.3180,"l":33.8,"r":0,"c":0},
{"t":"2026-06-17T22:00","p":1015.8,"d":5.3175,"l":37.3,"r":0,"c":0},
{"t":"2026-06-18T00:00","p":1015.2,"d":5.3172,"l":36.0,"r":0,"c":0},
{"t":"2026-05-19T11:00","d":5.3165,"l":16.7},
{"t":"2026-05-19T13:00","d":5.3155,"l":17.1},
{"t":"2026-05-19T15:00","d":5.3142,"l":18.5},
{"t":"2026-05-19T17:00","d":5.3135,"l":20.4},
{"t":"2026-05-19T19:00","d":5.3128,"l":23.0},
{"t":"2026-05-19T21:00","d":5.3122,"l":24.0},
{"t":"2026-05-19T23:00","d":5.3138,"l":25.0},
{"t":"2026-05-20T01:00","d":5.3140,"l":26.6},
{"t":"2026-05-20T03:00","d":5.3142,"l":25.3},
{"t":"2026-05-20T05:00","d":5.3148,"l":21.6},
{"t":"2026-05-20T07:00","d":5.3153,"l":18.8},
{"t":"2026-05-20T09:00","d":5.3142,"l":16.5},
{"t":"2026-05-20T11:00","d":5.3142,"l":15.2},
{"t":"2026-05-20T13:00","d":5.3142,"l":14.8},
{"t":"2026-05-20T15:00","d":5.3135,"l":16.2},
{"t":"2026-05-20T17:00","d":5.3128,"l":20.4},
{"t":"2026-05-20T19:00","d":5.3122,"l":27.2},
{"t":"2026-05-20T21:00","d":5.3132,"l":29.5},
{"t":"2026-05-20T23:00","d":5.3142,"l":31.8},
{"t":"2026-05-21T01:00","d":5.3150,"l":28.0},
{"t":"2026-05-21T03:00","d":5.3162,"l":23.7},
{"t":"2026-05-21T05:00","d":5.3158,"l":19.5},
{"t":"2026-05-21T07:00","d":5.3155,"l":17.0},
{"t":"2026-05-21T09:00","d":5.3160,"l":15.5},
{"t":"2026-05-21T11:00","d":5.3148,"l":14.5},
{"t":"2026-05-21T13:00","d":5.3142,"l":13.4},
{"t":"2026-05-21T15:00","d":5.3142,"l":17.8},
{"t":"2026-05-21T17:00","d":5.3125,"l":27.5},
{"t":"2026-05-21T19:00","d":5.3120,"l":35.0},
{"t":"2026-05-21T21:00","d":5.3128,"l":38.3},
{"t":"2026-05-21T23:00","d":5.3138,"l":38.5},
{"t":"2026-05-22T01:00","d":5.3142,"l":31.8},
{"t":"2026-05-22T03:00","d":5.3138,"l":26.2},
{"t":"2026-05-22T05:00","d":5.3142,"l":22.0},
{"t":"2026-05-22T07:00","d":5.3142,"l":19.2},
{"t":"2026-05-22T09:00","d":5.3142,"l":17.5},
{"t":"2026-05-22T11:00","d":5.3145,"l":16.2},
{"t":"2026-05-22T13:00","d":5.3142,"l":15.4},
{"t":"2026-05-22T15:00","d":5.3128,"l":19.8},
{"t":"2026-05-22T17:00","d":5.3126,"l":30.5},
{"t":"2026-05-22T19:00","d":5.3132,"l":37.8},
{"t":"2026-05-22T21:00","d":5.3142,"l":40.4},
{"t":"2026-05-22T23:00","d":5.3142,"l":38.5},
{"t":"2026-05-23T01:00","d":5.3142,"l":34.2},
{"t":"2026-05-23T03:00","d":5.3142,"l":29.0},
{"t":"2026-05-23T05:00","d":5.3142,"l":25.0},
{"t":"2026-05-23T07:00","d":5.3147,"l":22.0},
{"t":"2026-05-23T09:00","d":5.3155,"l":19.8},
{"t":"2026-05-23T11:00","d":5.3169,"l":18.2},
{"t":"2026-05-23T13:00","d":5.3169,"l":18.9},
{"t":"2026-05-23T15:00","d":5.3152,"l":21.0},
{"t":"2026-05-23T17:00","d":5.3169,"l":24.3},
{"t":"2026-05-23T19:00","d":5.3155,"l":28.4},
{"t":"2026-05-23T21:00","d":5.3160,"l":32.5},
{"t":"2026-05-23T23:00","d":5.3169,"l":32.0},
{"t":"2026-05-24T01:00","d":5.3160,"l":28.2},
{"t":"2026-05-24T03:00","d":5.3169,"l":25.0},
{"t":"2026-05-24T05:00","d":5.3169,"l":22.8},
{"t":"2026-05-24T07:00","d":5.3172,"l":21.3},
{"t":"2026-05-24T09:00","d":5.3169,"l":20.3},
{"t":"2026-05-24T11:00","d":5.3169,"l":19.7},
{"t":"2026-05-24T13:00","d":5.3175,"l":20.3},
{"t":"2026-05-24T15:00","d":5.3169,"l":22.2},
{"t":"2026-05-24T17:00","d":5.3160,"l":25.5},
{"t":"2026-05-24T19:00","d":5.3145,"l":31.0},
{"t":"2026-05-24T21:00","d":5.3145,"l":35.0},
{"t":"2026-05-24T23:00","d":5.3163,"l":31.8},
{"t":"2026-05-25T01:00","d":5.3169,"l":27.0},
{"t":"2026-05-25T03:00","d":5.3169,"l":23.8},
{"t":"2026-05-25T05:00","d":5.3169,"l":21.8},
{"t":"2026-05-25T07:00","d":5.3169,"l":20.3},
{"t":"2026-05-25T09:00","d":5.3169,"l":19.2},
{"t":"2026-05-25T11:00","d":5.3169,"l":18.3},
{"t":"2026-05-25T13:00","d":5.3169,"l":17.6},
{"t":"2026-05-25T15:00","d":5.3169,"l":19.6},
{"t":"2026-05-25T17:00","d":5.3155,"l":22.5},
{"t":"2026-05-25T19:00","d":5.3145,"l":23.4},
{"t":"2026-05-25T21:00","d":5.3165,"l":23.6},
{"t":"2026-05-25T23:00","d":5.3169,"l":23.3},
{"t":"2026-05-26T01:00","d":5.3169,"l":22.9},
{"t":"2026-05-26T03:00","d":5.3150,"l":21.8},
{"t":"2026-05-26T05:00","d":5.3160,"l":20.5},
{"t":"2026-05-26T07:00","d":5.3165,"l":19.5},
{"t":"2026-05-26T09:00","d":5.3142,"l":18.5},
{"t":"2026-05-26T11:00","d":5.3155,"l":17.7},
{"t":"2026-05-26T13:00","d":5.3165,"l":17.0},
{"t":"2026-05-26T15:00","d":5.3169,"l":17.5},
{"t":"2026-05-26T17:00","d":5.3160,"l":19.0},
{"t":"2026-05-26T19:00","d":5.3169,"l":22.0},
{"t":"2026-05-26T21:00","d":5.3155,"l":25.5},
{"t":"2026-05-26T23:00","d":5.3160,"l":28.2},
{"t":"2026-05-27T01:00","d":5.3155,"l":26.5},
{"t":"2026-05-27T03:00","d":5.3150,"l":23.2},
{"t":"2026-05-27T05:00","d":5.3142,"l":20.0},
{"t":"2026-05-27T07:00","d":5.3142,"l":17.7},
{"t":"2026-05-27T09:00","d":5.3142,"l":16.4},
{"t":"2026-05-27T11:00","d":5.3142,"l":15.9},
{"t":"2026-05-27T13:00","d":5.3142,"l":15.7},
{"t":"2026-05-27T15:00","d":5.3142,"l":19.5},
{"t":"2026-05-27T17:00","d":5.3142,"l":29.5},
{"t":"2026-05-27T19:00","d":5.3142,"l":36.0},
{"t":"2026-05-27T21:00","d":5.3142,"l":39.2},
{"t":"2026-05-27T23:00","d":5.3142,"l":39.3},
{"t":"2026-05-28T01:00","d":5.3169,"l":33.8},
{"t":"2026-05-28T03:00","d":5.3169,"l":25.5},
{"t":"2026-05-28T05:00","d":5.3165,"l":21.8},
{"t":"2026-05-28T07:00","d":5.3169,"l":19.8},
{"t":"2026-05-28T09:00","d":5.3160,"l":18.8},
{"t":"2026-05-28T11:00","d":5.3142,"l":18.0},
{"t":"2026-05-28T13:00","d":5.3150,"l":18.5},
{"t":"2026-05-28T15:00","d":5.3142,"l":24.5},
{"t":"2026-05-28T17:00","d":5.3142,"l":32.0},
{"t":"2026-05-28T19:00","d":5.3142,"l":38.0},
{"t":"2026-05-28T21:00","d":5.3142,"l":42.3},
{"t":"2026-05-28T23:00","d":5.3142,"l":40.6},
{"t":"2026-05-29T01:00","d":5.3155,"l":35.8},
{"t":"2026-05-29T03:00","d":5.3162,"l":31.3},
{"t":"2026-05-29T05:00","d":5.3150,"l":27.5},
{"t":"2026-05-29T07:00","d":5.3165,"l":24.4},
{"t":"2026-05-29T09:00","d":5.3158,"l":22.5},
{"t":"2026-05-29T11:00","d":5.3150,"l":21.6},
{"t":"2026-05-29T13:00","d":5.3162,"l":20.6},
{"t":"2026-05-29T15:00","d":5.3169,"l":20.0},
{"t":"2026-05-29T17:00","d":5.3169,"l":20.2},
{"t":"2026-05-29T19:00","d":5.3169,"l":20.4},
{"t":"2026-05-29T21:00","d":5.3169,"l":20.7},
{"t":"2026-05-29T23:00","d":5.3160,"l":21.2},
{"t":"2026-05-30T01:00","d":5.3169,"l":20.6},
{"t":"2026-05-30T03:00","d":5.3162,"l":19.0},
{"t":"2026-05-30T05:00","d":5.3169,"l":18.0},
{"t":"2026-05-30T07:00","d":5.3160,"l":17.2},
{"t":"2026-05-30T09:00","d":5.3169,"l":16.5},
{"t":"2026-05-30T11:00","d":5.3169,"l":16.4},
{"t":"2026-05-30T13:00","d":5.3155,"l":17.0},
{"t":"2026-05-30T15:00","d":5.3142,"l":21.5},
{"t":"2026-05-30T17:00","d":5.3142,"l":27.5},
{"t":"2026-05-30T19:00","d":5.3142,"l":30.8},
{"t":"2026-05-30T21:00","d":5.3165,"l":27.5},
{"t":"2026-05-30T23:00","d":5.3169,"l":25.0},
{"t":"2026-05-31T01:00","d":5.3169,"l":23.5},
{"t":"2026-05-31T03:00","d":5.3169,"l":20.5},
{"t":"2026-05-31T05:00","d":5.3170,"l":17.3},
{"t":"2026-05-31T07:00","d":5.3170,"l":15.2},
{"t":"2026-05-31T09:00","d":5.3171,"l":13.5},
{"t":"2026-05-31T11:00","d":5.3170,"l":12.0},
{"t":"2026-05-31T13:00","d":5.3171,"l":11.1},
{"t":"2026-05-31T15:00","d":5.3160,"l":17.0},
{"t":"2026-05-31T17:00","d":5.3147,"l":26.0},
{"t":"2026-05-31T19:00","d":5.3158,"l":33.5},
{"t":"2026-05-31T21:00","d":5.3155,"l":37.1},
{"t":"2026-05-31T23:00","d":5.3160,"l":32.0},
{"t":"2026-06-01T01:00","d":5.3169,"l":26.5},
{"t":"2026-06-01T03:00","d":5.3169,"l":22.5},
{"t":"2026-06-01T05:00","d":5.3169,"l":19.3},
{"t":"2026-06-01T07:00","d":5.3183,"l":16.5},
{"t":"2026-06-01T09:00","d":5.3178,"l":14.6},
{"t":"2026-06-01T11:00","d":5.3169,"l":13.8},
{"t":"2026-06-01T13:00","d":5.3169,"l":12.9},
{"t":"2026-06-01T15:00","d":5.3169,"l":18.5},
{"t":"2026-06-01T17:00","d":5.3169,"l":25.8},
{"t":"2026-06-01T19:00","d":5.3158,"l":32.8},
{"t":"2026-06-01T21:00","d":5.3148,"l":38.5},
{"t":"2026-06-01T23:00","d":5.3142,"l":38.0},
{"t":"2026-06-02T01:00","d":5.3145,"l":34.0},
{"t":"2026-06-02T03:00","d":5.3160,"l":29.5},
{"t":"2026-06-02T05:00","d":5.3155,"l":25.3},
{"t":"2026-06-02T07:00","d":5.3169,"l":21.5},
{"t":"2026-06-02T09:00","d":5.3152,"l":19.0},
{"t":"2026-06-02T11:00","d":5.3160,"l":17.3},
{"t":"2026-06-02T13:00","d":5.3145,"l":17.5},
{"t":"2026-06-02T15:00","d":5.3142,"l":24.0},
{"t":"2026-06-02T17:00","d":5.3142,"l":32.0},
{"t":"2026-06-02T19:00","d":5.3142,"l":40.2},
{"t":"2026-06-02T21:00","d":5.3142,"l":43.1},
{"t":"2026-06-02T23:00","d":5.3142,"l":39.0},
{"t":"2026-06-03T01:00","d":5.3142,"l":33.5},
{"t":"2026-06-03T03:00","d":5.3142,"l":28.0},
{"t":"2026-06-03T05:00","d":5.3142,"l":25.3},
{"t":"2026-06-03T07:00","d":5.3142,"l":23.6},
{"t":"2026-06-03T09:00","d":5.3160,"l":22.3},
{"t":"2026-06-03T11:00","d":5.3169,"l":21.7},
{"t":"2026-06-03T13:00","d":5.3160,"l":21.2},
{"t":"2026-06-03T15:00","d":5.3155,"l":22.8},
{"t":"2026-06-03T17:00","d":5.3142,"l":26.7},
{"t":"2026-06-03T19:00","d":5.3142,"l":30.8},
{"t":"2026-06-03T21:00","d":5.3140,"l":33.2},
{"t":"2026-06-03T23:00","d":5.3142,"l":32.2},
{"t":"2026-06-04T01:00","d":5.3148,"l":28.8},
{"t":"2026-06-04T03:00","d":5.3160,"l":24.9},
{"t":"2026-06-04T05:00","d":5.3169,"l":21.0},
{"t":"2026-06-04T07:00","d":5.3155,"l":19.3},
{"t":"2026-06-04T09:00","d":5.3142,"l":19.6},
{"t":"2026-06-04T11:00","d":5.3142,"l":19.9},
{"t":"2026-06-04T13:00","d":5.3142,"l":20.1},
{"t":"2026-06-04T15:00","d":5.3142,"l":20.4},
{"t":"2026-06-04T17:00","d":5.3142,"l":20.6},
{"t":"2026-06-04T19:00","d":5.3142,"l":21.0},
{"t":"2026-06-04T21:00","d":5.3148,"l":21.5},
{"t":"2026-06-04T23:00","d":5.3142,"l":22.3},
{"t":"2026-06-05T01:00","d":5.3142,"l":23.0},
{"t":"2026-06-05T03:00","d":5.3148,"l":22.0},
{"t":"2026-06-05T05:00","d":5.3140,"l":20.5},
{"t":"2026-06-05T07:00","d":5.3135,"l":19.2},
{"t":"2026-06-05T09:00","d":5.3128,"l":18.2},
{"t":"2026-06-05T11:00","d":5.3135,"l":17.0},
{"t":"2026-06-05T13:00","d":5.3142,"l":16.3},
{"t":"2026-06-05T15:00","d":5.3148,"l":20.0},
{"t":"2026-06-05T17:00","d":5.3155,"l":24.5},
{"t":"2026-06-05T19:00","d":5.3165,"l":30.5},
{"t":"2026-06-05T21:00","d":5.3160,"l":32.5},
{"t":"2026-06-05T23:00","d":5.3169,"l":28.8},
{"t":"2026-06-06T01:00","d":5.3160,"l":26.2},
{"t":"2026-06-06T03:00","d":5.3150,"l":24.2},
{"t":"2026-06-06T05:00","d":5.3142,"l":22.3},
{"t":"2026-06-06T07:00","d":5.3142,"l":20.7},
{"t":"2026-06-06T09:00","d":5.3142,"l":19.0},
{"t":"2026-06-06T11:00","d":5.3142,"l":17.9},
{"t":"2026-06-06T13:00","d":5.3142,"l":17.3},
{"t":"2026-06-06T15:00","d":5.3142,"l":17.2},
{"t":"2026-06-06T17:00","d":5.3142,"l":19.3},
{"t":"2026-06-06T19:00","d":5.3145,"l":21.0},
{"t":"2026-06-06T21:00","d":5.3155,"l":22.0},
{"t":"2026-06-06T23:00","d":5.3169,"l":23.0},
{"t":"2026-06-07T01:00","d":5.3160,"l":22.0},
{"t":"2026-06-07T03:00","d":5.3169,"l":19.5},
{"t":"2026-06-07T05:00","d":5.3155,"l":17.4},
{"t":"2026-06-07T07:00","d":5.3160,"l":15.2},
{"t":"2026-06-07T09:00","d":5.3169,"l":13.8},
{"t":"2026-06-07T11:00","d":5.3148,"l":12.8},
{"t":"2026-06-07T13:00","d":5.3142,"l":11.8},
{"t":"2026-06-07T15:00","d":5.3142,"l":14.5},
{"t":"2026-06-07T17:00","d":5.3142,"l":20.0},
{"t":"2026-06-07T19:00","d":5.3142,"l":25.5},
{"t":"2026-06-07T21:00","d":5.3148,"l":29.3},
{"t":"2026-06-07T23:00","d":5.3155,"l":27.0},
{"t":"2026-06-08T01:00","d":5.3169,"l":25.0},
{"t":"2026-06-08T03:00","d":5.3160,"l":22.2},
{"t":"2026-06-08T05:00","d":5.3169,"l":19.3},
{"t":"2026-06-08T07:00","d":5.3162,"l":17.5},
{"t":"2026-06-08T09:00","d":5.3153,"l":16.4},
{"t":"2026-06-08T11:00","d":5.3160,"l":15.8},
{"t":"2026-06-08T13:00","d":5.3155,"l":16.7},
{"t":"2026-06-08T15:00","d":5.3142,"l":17.7},
{"t":"2026-06-08T17:00","d":5.3142,"l":19.2},
{"t":"2026-06-08T19:00","d":5.3130,"l":20.8},
{"t":"2026-06-08T21:00","d":5.3142,"l":22.2},
{"t":"2026-06-08T23:00","d":5.3142,"l":22.5},
{"t":"2026-06-09T01:00","d":5.3142,"l":20.8},
{"t":"2026-06-09T03:00","d":5.3142,"l":19.7},
{"t":"2026-06-09T05:00","d":5.3142,"l":19.0},
{"t":"2026-06-09T07:00","d":5.3142,"l":18.8},
{"t":"2026-06-09T09:00","d":5.3145,"l":18.5},
{"t":"2026-06-09T11:00","d":5.3142,"l":18.2},
{"t":"2026-06-09T13:00","d":5.3142,"l":18.0},
{"t":"2026-06-09T15:00","d":5.3142,"l":20.5},
{"t":"2026-06-09T17:00","d":5.3142,"l":22.5},
{"t":"2026-06-09T19:00","d":5.3150,"l":24.0},
{"t":"2026-06-09T21:00","d":5.3160,"l":24.8},
{"t":"2026-06-09T23:00","d":5.3169,"l":25.3},
{"t":"2026-06-10T01:00","d":5.3169,"l":24.6},
{"t":"2026-06-10T03:00","d":5.3169,"l":22.2},
{"t":"2026-06-10T05:00","d":5.3160,"l":20.2},
{"t":"2026-06-10T07:00","d":5.3155,"l":19.1},
{"t":"2026-06-10T09:00","d":5.3142,"l":18.4},
{"t":"2026-06-10T11:00","d":5.3142,"l":17.7},
{"t":"2026-06-10T13:00","d":5.3142,"l":17.8},
{"t":"2026-06-10T15:00","d":5.3142,"l":19.8},
{"t":"2026-06-10T17:00","d":5.3155,"l":21.8},
{"t":"2026-06-10T19:00","d":5.3152,"l":23.2},
{"t":"2026-06-10T21:00","d":5.3169,"l":24.5},
{"t":"2026-06-10T23:00","d":5.3169,"l":25.3},
{"t":"2026-06-11T01:00","d":5.3169,"l":24.6},
{"t":"2026-06-11T03:00","d":5.3169,"l":22.7},
{"t":"2026-06-11T05:00","d":5.3169,"l":20.9},
{"t":"2026-06-11T07:00","d":5.3171,"l":19.2},
{"t":"2026-06-11T09:00","d":5.3169,"l":17.5},
{"t":"2026-06-11T11:00","d":5.3169,"l":15.7},
{"t":"2026-06-11T13:00","d":5.3160,"l":14.2},
{"t":"2026-06-11T15:00","d":5.3142,"l":19.5},
{"t":"2026-06-11T17:00","d":5.3142,"l":26.0},
{"t":"2026-06-11T19:00","d":5.3138,"l":34.5},
{"t":"2026-06-11T21:00","d":5.3142,"l":38.7},
{"t":"2026-06-11T23:00","d":5.3165,"l":34.0},
{"t":"2026-06-12T01:00","d":5.3169,"l":30.0},
{"t":"2026-06-12T03:00","d":5.3169,"l":25.5},
{"t":"2026-06-12T05:00","d":5.3169,"l":21.9},
{"t":"2026-06-12T07:00","d":5.3169,"l":19.8},
{"t":"2026-06-12T09:00","d":5.3169,"l":18.6},
{"t":"2026-06-12T11:00","d":5.3169,"l":17.4},
{"t":"2026-06-12T13:00","d":5.3169,"l":16.4},
{"t":"2026-06-12T15:00","d":5.3165,"l":19.5},
{"t":"2026-06-12T17:00","d":5.3155,"l":25.0},
{"t":"2026-06-12T19:00","d":5.3142,"l":33.5},
{"t":"2026-06-12T21:00","d":5.3142,"l":38.8},
{"t":"2026-06-12T23:00","d":5.3142,"l":34.0},
{"t":"2026-06-13T01:00","d":5.3148,"l":30.1},
{"t":"2026-06-13T03:00","d":5.3165,"l":26.6},
{"t":"2026-06-13T05:00","d":5.3169,"l":23.2},
{"t":"2026-06-13T07:00","d":5.3169,"l":20.7},
{"t":"2026-06-13T09:00","d":5.3169,"l":19.1},
{"t":"2026-06-13T11:00","d":5.3169,"l":17.7},
{"t":"2026-06-13T13:00","d":5.3169,"l":16.3},
{"t":"2026-06-13T15:00","d":5.3160,"l":20.8},
{"t":"2026-06-13T17:00","d":5.3155,"l":27.2},
{"t":"2026-06-13T19:00","d":5.3169,"l":35.0},
{"t":"2026-06-13T21:00","d":5.3169,"l":41.2},
{"t":"2026-06-13T23:00","d":5.3169,"l":40.5},
{"t":"2026-06-14T01:00","d":5.3169,"l":35.8},
{"t":"2026-06-14T03:00","d":5.3171,"l":31.0},
{"t":"2026-06-14T05:00","d":5.3169,"l":26.0},
{"t":"2026-06-14T07:00","d":5.3169,"l":22.8},
{"t":"2026-06-14T09:00","d":5.3169,"l":21.6},
{"t":"2026-06-14T11:00","d":5.3160,"l":20.8},
{"t":"2026-06-14T13:00","d":5.3169,"l":21.5},
{"t":"2026-06-14T15:00","d":5.3169,"l":27.5},
{"t":"2026-06-14T17:00","d":5.3150,"l":36.0},
{"t":"2026-06-14T19:00","d":5.3158,"l":43.0},
{"t":"2026-06-14T21:00","d":5.3169,"l":45.0},
{"t":"2026-06-14T23:00","d":5.3169,"l":40.5},
{"t":"2026-06-15T01:00","d":5.3169,"l":36.3},
{"t":"2026-06-15T03:00","d":5.3160,"l":32.5},
{"t":"2026-06-15T05:00","d":5.3169,"l":28.6},
{"t":"2026-06-15T07:00","d":5.3155,"l":25.4},
{"t":"2026-06-15T09:00","d":5.3169,"l":23.4},
{"t":"2026-06-15T11:00","d":5.3169,"l":21.6},
{"t":"2026-06-15T13:00","d":5.3169,"l":19.8},
{"t":"2026-06-15T15:00","d":5.3160,"l":24.3},
{"t":"2026-06-15T17:00","d":5.3169,"l":29.0},
{"t":"2026-06-15T19:00","d":5.3169,"l":34.5},
{"t":"2026-06-15T21:00","d":5.3169,"l":40.5},
{"t":"2026-06-15T23:00","d":5.3155,"l":41.8},
{"t":"2026-06-16T01:00","d":5.3165,"l":38.3},
{"t":"2026-06-16T03:00","d":5.3172,"l":34.8},
{"t":"2026-06-16T05:00","d":5.3174,"l":31.0},
{"t":"2026-06-16T07:00","d":5.3190,"l":27.5},
{"t":"2026-06-16T09:00","d":5.3195,"l":24.8},
{"t":"2026-06-16T11:00","d":5.3196,"l":22.0},
{"t":"2026-06-16T13:00","d":5.3198,"l":19.2},
{"t":"2026-06-16T15:00","d":5.3169,"l":21.3},
{"t":"2026-06-16T17:00","d":5.3172,"l":24.4},
{"t":"2026-06-16T19:00","d":5.3169,"l":30.0},
{"t":"2026-06-16T21:00","d":5.3175,"l":38.0},
{"t":"2026-06-16T23:00","d":5.3185,"l":40.0},
{"t":"2026-06-17T01:00","d":5.3175,"l":35.3},
{"t":"2026-06-17T03:00","d":5.3180,"l":30.5},
{"t":"2026-06-17T05:00","d":5.3197,"l":25.8},
{"t":"2026-06-17T07:00","d":5.3188,"l":22.2},
{"t":"2026-06-17T09:00","d":5.3180,"l":20.4},
{"t":"2026-06-17T11:00","d":5.3190,"l":18.9},
{"t":"2026-06-17T13:00","d":5.3178,"l":17.5},
{"t":"2026-06-17T15:00","d":5.3172,"l":21.0},
{"t":"2026-06-17T17:00","d":5.3190,"l":26.0},
{"t":"2026-06-17T19:00","d":5.3178,"l":31.2},
{"t":"2026-06-17T21:00","d":5.3174,"l":35.8},
{"t":"2026-06-17T23:00","d":5.3180,"l":37.5}
]},
"vconcat":[
{"width":1098,"height":110,
"transform":[{"filter":"isValid(datum.p)"}],
"encoding":{
"x":{"field":"t","type":"temporal","scale":{"domain":[{"year":2026,"month":5,"date":19,"hours":9,"minutes":47},{"year":2026,"month":6,"date":18,"hours":10,"minutes":26}]},"axis":{"title":null,"format":"%Y-%m-%d","labelFlush":false,"values":[{"year":2026,"month":5,"date":21},{"year":2026,"month":5,"date":25},{"year":2026,"month":5,"date":29},{"year":2026,"month":6,"date":1},{"year":2026,"month":6,"date":5},{"year":2026,"month":6,"date":9},{"year":2026,"month":6,"date":13},{"year":2026,"month":6,"date":17}]}},
"y":{"field":"p","type":"quantitative","scale":{"domain":[996.9,1026.0],"zero":false,"nice":false},"axis":{"title":"PressurehPa","values":[1000,1010,1020],"format":"d"}}
},
"layer":[
{"mark":{"type":"line","color":"black","strokeWidth":2.4}},
{"mark":{"type":"point","filled":true,"color":"black","size":7,"opacity":1}}
]},
{"width":1098,"height":110,
"mark":{"type":"point","filled":true,"color":"black","size":5,"opacity":1},
"encoding":{
"x":{"field":"t","type":"temporal","scale":{"domain":[{"year":2026,"month":5,"date":19,"hours":9,"minutes":47},{"year":2026,"month":6,"date":18,"hours":10,"minutes":26}]},"axis":{"title":null,"format":"%Y-%m-%d","labelFlush":false,"values":[{"year":2026,"month":5,"date":21},{"year":2026,"month":5,"date":25},{"year":2026,"month":5,"date":29},{"year":2026,"month":6,"date":1},{"year":2026,"month":6,"date":5},{"year":2026,"month":6,"date":9},{"year":2026,"month":6,"date":13},{"year":2026,"month":6,"date":17}]}},
"y":{"field":"d","type":"quantitative","scale":{"domain":[5.3109,5.32035],"zero":false,"nice":false},"axis":{"title":"DownholeDegC","values":[5.315,5.32],"format":".3f"}}
}},
{"width":1098,"height":110,
"mark":{"type":"point","filled":true,"color":"black","size":5,"opacity":1},
"encoding":{
"x":{"field":"t","type":"temporal","scale":{"domain":[{"year":2026,"month":5,"date":19,"hours":9,"minutes":47},{"year":2026,"month":6,"date":18,"hours":10,"minutes":26}]},"axis":{"title":null,"format":"%Y-%m-%d","labelFlush":false,"values":[{"year":2026,"month":5,"date":21},{"year":2026,"month":5,"date":25},{"year":2026,"month":5,"date":29},{"year":2026,"month":6,"date":1},{"year":2026,"month":6,"date":5},{"year":2026,"month":6,"date":9},{"year":2026,"month":6,"date":13},{"year":2026,"month":6,"date":17}]}},
"y":{"field":"l","type":"quantitative","scale":{"domain":[9.35,47.5],"zero":false,"nice":false},"axis":{"title":"LoggerDegC","values":[20,40]}}
}},
{"width":1098,"height":110,
"transform":[{"filter":"isValid(datum.r)"}],
"mark":{"type":"line","color":"black","strokeWidth":3},
"encoding":{
"x":{"field":"t","type":"temporal","scale":{"domain":[{"year":2026,"month":5,"date":19,"hours":9,"minutes":47},{"year":2026,"month":6,"date":18,"hours":10,"minutes":26}]},"axis":{"title":null,"format":"%Y-%m-%d","labelFlush":false,"values":[{"year":2026,"month":5,"date":21},{"year":2026,"month":5,"date":25},{"year":2026,"month":5,"date":29},{"year":2026,"month":6,"date":1},{"year":2026,"month":6,"date":5},{"year":2026,"month":6,"date":9},{"year":2026,"month":6,"date":13},{"year":2026,"month":6,"date":17}]}},
"y":{"field":"r","type":"quantitative","scale":{"domain":[-0.055,0.055],"zero":false,"nice":false},"axis":{"title":"Rainfallmm","values":[-0.05,0,0.05],"format":".2f"}}
}},
{"width":1098,"height":110,
"transform":[{"filter":"isValid(datum.c)"}],
"mark":{"type":"line","color":"black","strokeWidth":3},
"encoding":{
"x":{"field":"t","type":"temporal","scale":{"domain":[{"year":2026,"month":5,"date":19,"hours":9,"minutes":47},{"year":2026,"month":6,"date":18,"hours":10,"minutes":26}]},"axis":{"title":null,"format":"%Y-%m-%d","labelFlush":false,"values":[{"year":2026,"month":5,"date":21},{"year":2026,"month":5,"date":25},{"year":2026,"month":5,"date":29},{"year":2026,"month":6,"date":1},{"year":2026,"month":6,"date":5},{"year":2026,"month":6,"date":9},{"year":2026,"month":6,"date":13},{"year":2026,"month":6,"date":17}]}},
"y":{"field":"c","type":"quantitative","scale":{"domain":[-0.055,0.055],"zero":false,"nice":false},"axis":{"title":"RainfallCumulative","values":[-0.05,0,0.05],"format":".2f"}}
}}
]
}
